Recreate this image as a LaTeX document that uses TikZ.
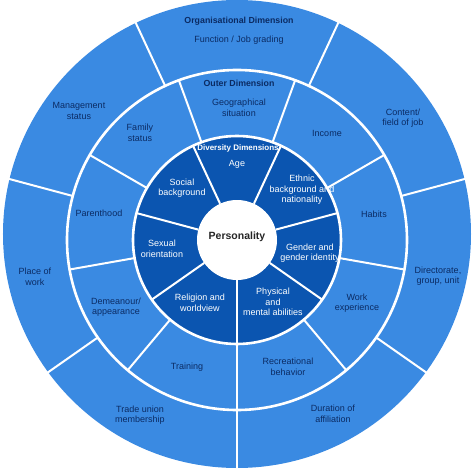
\documentclass[tikz,border=0pt]{standalone}
\usepackage{fontspec}
\setmainfont{Liberation Sans}
\usepackage{xcolor}
\usetikzlibrary{positioning}
\definecolor{azulclaro}{HTML}{3A8AE2}
\definecolor{azuloscuro}{HTML}{0B55B0}
\definecolor{azultexto}{HTML}{0B2B63}
\tikzset{
  etiqueta/.style={align=center, font=\fontsize{9}{10.5}\selectfont, text=azultexto, inner sep=1pt},
  titulo/.style={etiqueta, font=\fontsize{8.8}{10.5}\selectfont\bfseries},
  interna/.style={etiqueta, text=white},
  divisor/.style={draw=white, line width=2pt},
  anillo/.style={draw=white, line width=2.6pt},
}

\begin{document}
\begin{tikzpicture}[x=1pt, y=1pt]
  \useasboundingbox (-237,-237) rectangle (237,237);
  \fill[azulclaro] (0,3) circle (234);
  % anillos y divisores
  \begin{scope}[shift={(0,-3)}]
    \fill[azuloscuro] (0,0) circle (104);
    \fill[white] (0,0) circle (40);
    \draw[anillo] (0,0) circle (170) (0,0) circle (104);
    \foreach \a in {15,65,115,165,215,270,325} {
      \draw[divisor] (\a:170) -- (\a:240);
      \draw[divisor] (\a:40) -- (\a:104);
    }
    \foreach \a in {30,70,110,150,190,230,270,310,350} \draw[divisor] (\a:104) -- (\a:170);
  \end{scope}
  % dimension organizacional
  \node[titulo] (org) at (2,216) {Organisational Dimension};
  \node[etiqueta] (funcion) at (2,197) {Function / Job grading};
  \node[etiqueta] (contenido) at (166,119) {Content/\\field of job};
  \node[etiqueta] (direccion) at (201,-39) {Directorate,\\group, unit};
  \node[etiqueta] (duracion) at (96,-177) {Duration of\\affiliation};
  \node[etiqueta] (sindicato) at (-97,-178) {Trade union\\membership};
  \node[etiqueta] (lugar) at (-202,-40) {Place of\\work};
  \node[etiqueta] (gestion) at (-158,126) {Management\\status};
  % dimension externa
  \node[titulo] (ext) at (2,154) {Outer Dimension};
  \node[etiqueta] (geo) at (2,129) {Geographical\\situation};
  \node[etiqueta] (ingreso) at (90,104) {Income};
  \node[etiqueta] (habitos) at (137,23) {Habits};
  \node[etiqueta] (experiencia) at (120,-66) {Work\\experience};
  \node[etiqueta] (ocio) at (51,-130) {Recreational\\behavior};
  \node[etiqueta] (formacion) at (-50,-130) {Training};
  \node[etiqueta] (apariencia) at (-121,-70) {Demeanour/\\appearance};
  \node[etiqueta] (paternidad) at (-138,24) {Parenthood};
  \node[etiqueta] (familia) at (-97,104) {Family\\status};
  % dimension de diversidad
  \node[interna, font=\fontsize{8}{10}\selectfont\bfseries] (div) at (1,89) {Diversity Dimensions};
  \node[interna] (edad) at (0,73) {Age};
  \node[interna] (etnia) at (65,47) {Ethnic\\background and\\nationality};
  \node[interna] (genero) at (73,-16) {Gender and\\gender identity};
  \node[interna] (capacidad) at (36,-65) {Physical\\and\\mental abilities};
  \node[interna] (religion) at (-37,-66) {Religion and\\worldview};
  \node[interna] (orientacion) at (-75,-12) {Sexual\\orientation};
  \node[interna] (social) at (-55,49) {Social\\background};
  \node[font=\fontsize{10.5}{12}\selectfont\bfseries, text=black!85] (pers) at (0,0) {Personality};
\end{tikzpicture}
\end{document}
